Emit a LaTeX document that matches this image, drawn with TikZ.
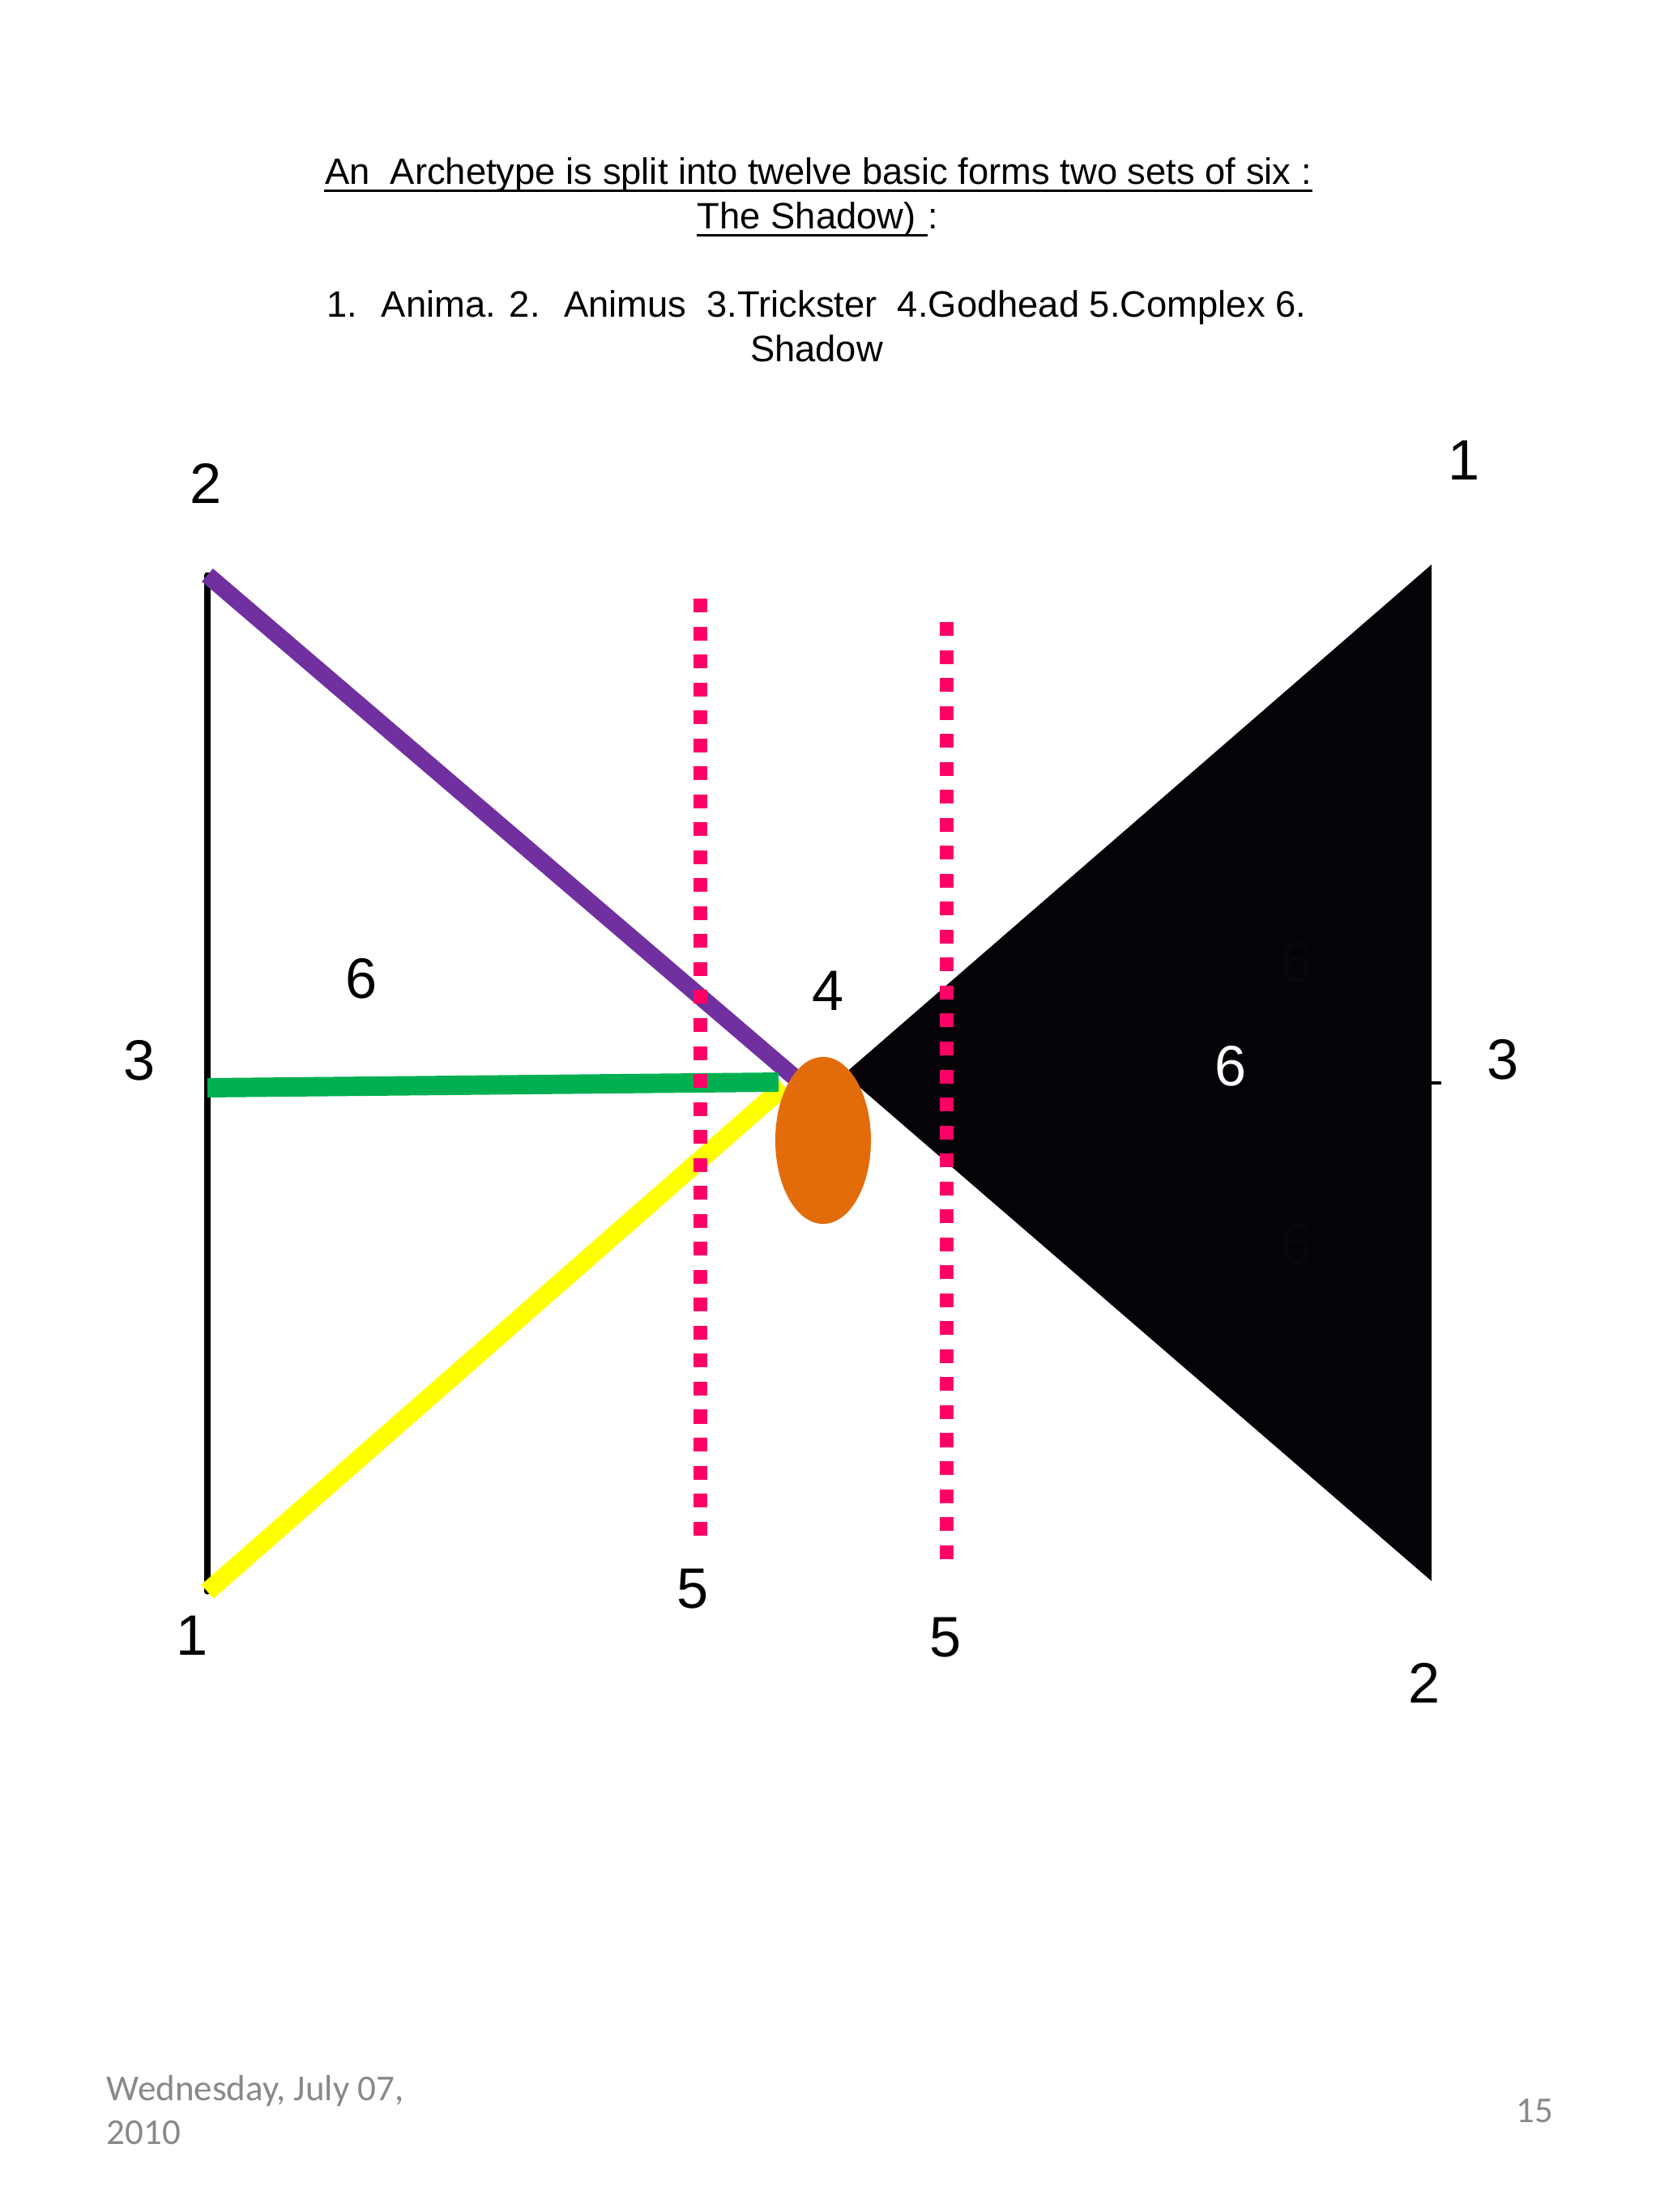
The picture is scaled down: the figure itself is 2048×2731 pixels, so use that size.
\documentclass[tikz,border=0pt]{standalone}
\usepackage{fontspec}
\setmainfont{Liberation Sans}
\newfontfamily\footfont{Carlito}
\usetikzlibrary{shapes.geometric}
\definecolor{archpurple}{HTML}{7030A0}
\definecolor{archgreen}{HTML}{00B050}
\definecolor{archyellow}{HTML}{FFFF00}
\definecolor{archorange}{HTML}{E36C0A}
\definecolor{dotpink}{HTML}{FF0066}
\definecolor{footgray}{HTML}{898989}
\definecolor{shadowblack}{HTML}{050308}
\definecolor{faintsix}{HTML}{08070A}
\begin{document}
\begin{tikzpicture}[x=0.01cm,y=-0.01cm,
  lbl/.style={font=\fontsize{20}{24}\selectfont,anchor=base,inner sep=0pt},
  ttl/.style={font=\fontsize{12.9}{15}\selectfont,anchor=base,inner sep=0pt},
  uline/.style={line width=0.85pt},
  foot/.style={font=\footfont\fontsize{12.8}{15}\selectfont,text=footgray,inner sep=0pt},
  dotline/.style={draw=dotpink,line width=4.84pt,dash pattern=on 4.84pt off 4.98pt}]
  \useasboundingbox[fill=white] (0,0) rectangle (2048,2731);
  % heading
  \node[ttl] (head1) at (1010,228) {An~ Archetype is split into twelve basic forms two sets of six :};
  \node[ttl,anchor=base east] (head2) at (1145,283) {The Shadow)\kern0.3em};
  \node[ttl,anchor=base west] (colon) at (head2.base east) {:};
  \draw[uline] ([yshift=-2pt]head1.base west) -- ([yshift=-2pt]head1.base east);
  \draw[uline] ([yshift=-2pt]head2.base west) -- ([yshift=-2pt]head2.base east);
  \node[ttl] (list1) at (1008,392) {1.~ Anima. 2.~ Animus~ 3.Trickster~ 4.Godhead 5.Complex 6.};
  \node[ttl] (list2) at (1008,447) {Shadow};
  % corner points
  \coordinate (lt) at (256,710);
  \coordinate (lm) at (256,1343);
  \coordinate (lb) at (256,1965);
  \coordinate (hub) at (990,1338);
  \coordinate (gend) at (961,1336);
  \coordinate (yend) at (968,1341);
  \coordinate (apex) at (1042,1326);
  \coordinate (rt) at (1767,697);
  \coordinate (rb) at (1767,1952);
  \coordinate (tick) at (1779,1337);
  \coordinate (d1t) at (864,739);
  \coordinate (d1b) at (864,1906);
  \coordinate (d2t) at (1168,768);
  \coordinate (d2b) at (1168,1934);
  % shadow triangle
  \fill[shadowblack] (apex) -- (rt) -- (rb) -- cycle;
  \draw[line width=0.9pt] (rb |- tick) -- (tick);
  % left side
  \draw[line width=2pt,line cap=round] (lt) -- (lb);
  \draw[archpurple,line width=6pt] (lt) -- (hub);
  \draw[archyellow,line width=6.5pt] (lb) -- (yend);
  \draw[archgreen,line width=6.8pt] (lm) -- (gend);
  \node[ellipse,fill=archorange,minimum width=1.18cm,minimum height=2.06cm,inner sep=0pt] (egg) at (1016,1408) {};
  % dotted fives
  \draw[dotline] (d1t) -- (d1b);
  \draw[dotline] (d2t) -- (d2b);
  % numbers
  \node[lbl] (n2a) at (254,622) {2};
  \node[lbl] (n1a) at (1807,593) {1};
  \node[lbl] (n6a) at (446,1232) {6};
  \node[lbl] (n4) at (1022,1247) {4};
  \node[lbl] (n3a) at (172,1333) {3};
  \node[lbl,text=white] (n6b) at (1519,1340) {6};
  \node[lbl] (n3b) at (1855,1332) {3};
  \node[lbl,text=faintsix] (n6c) at (1600,1212) {6};
  \node[lbl,text=faintsix] (n6d) at (1600,1560) {6};
  \node[lbl] (n5a) at (855,1985) {5};
  \node[lbl] (n5b) at (1167,2045) {5};
  \node[lbl] (n1b) at (237,2043) {1};
  \node[lbl] (n2b) at (1758,2102) {2};
  % footer
  \node[foot,anchor=base west] (date1) at (131,2593) {Wednesday, July 07,};
  \node[foot,anchor=base west] (date2) at (131,2647) {2010};
  \node[foot,anchor=base east] (page) at (1918,2620) {15};
\end{tikzpicture}
\end{document}
